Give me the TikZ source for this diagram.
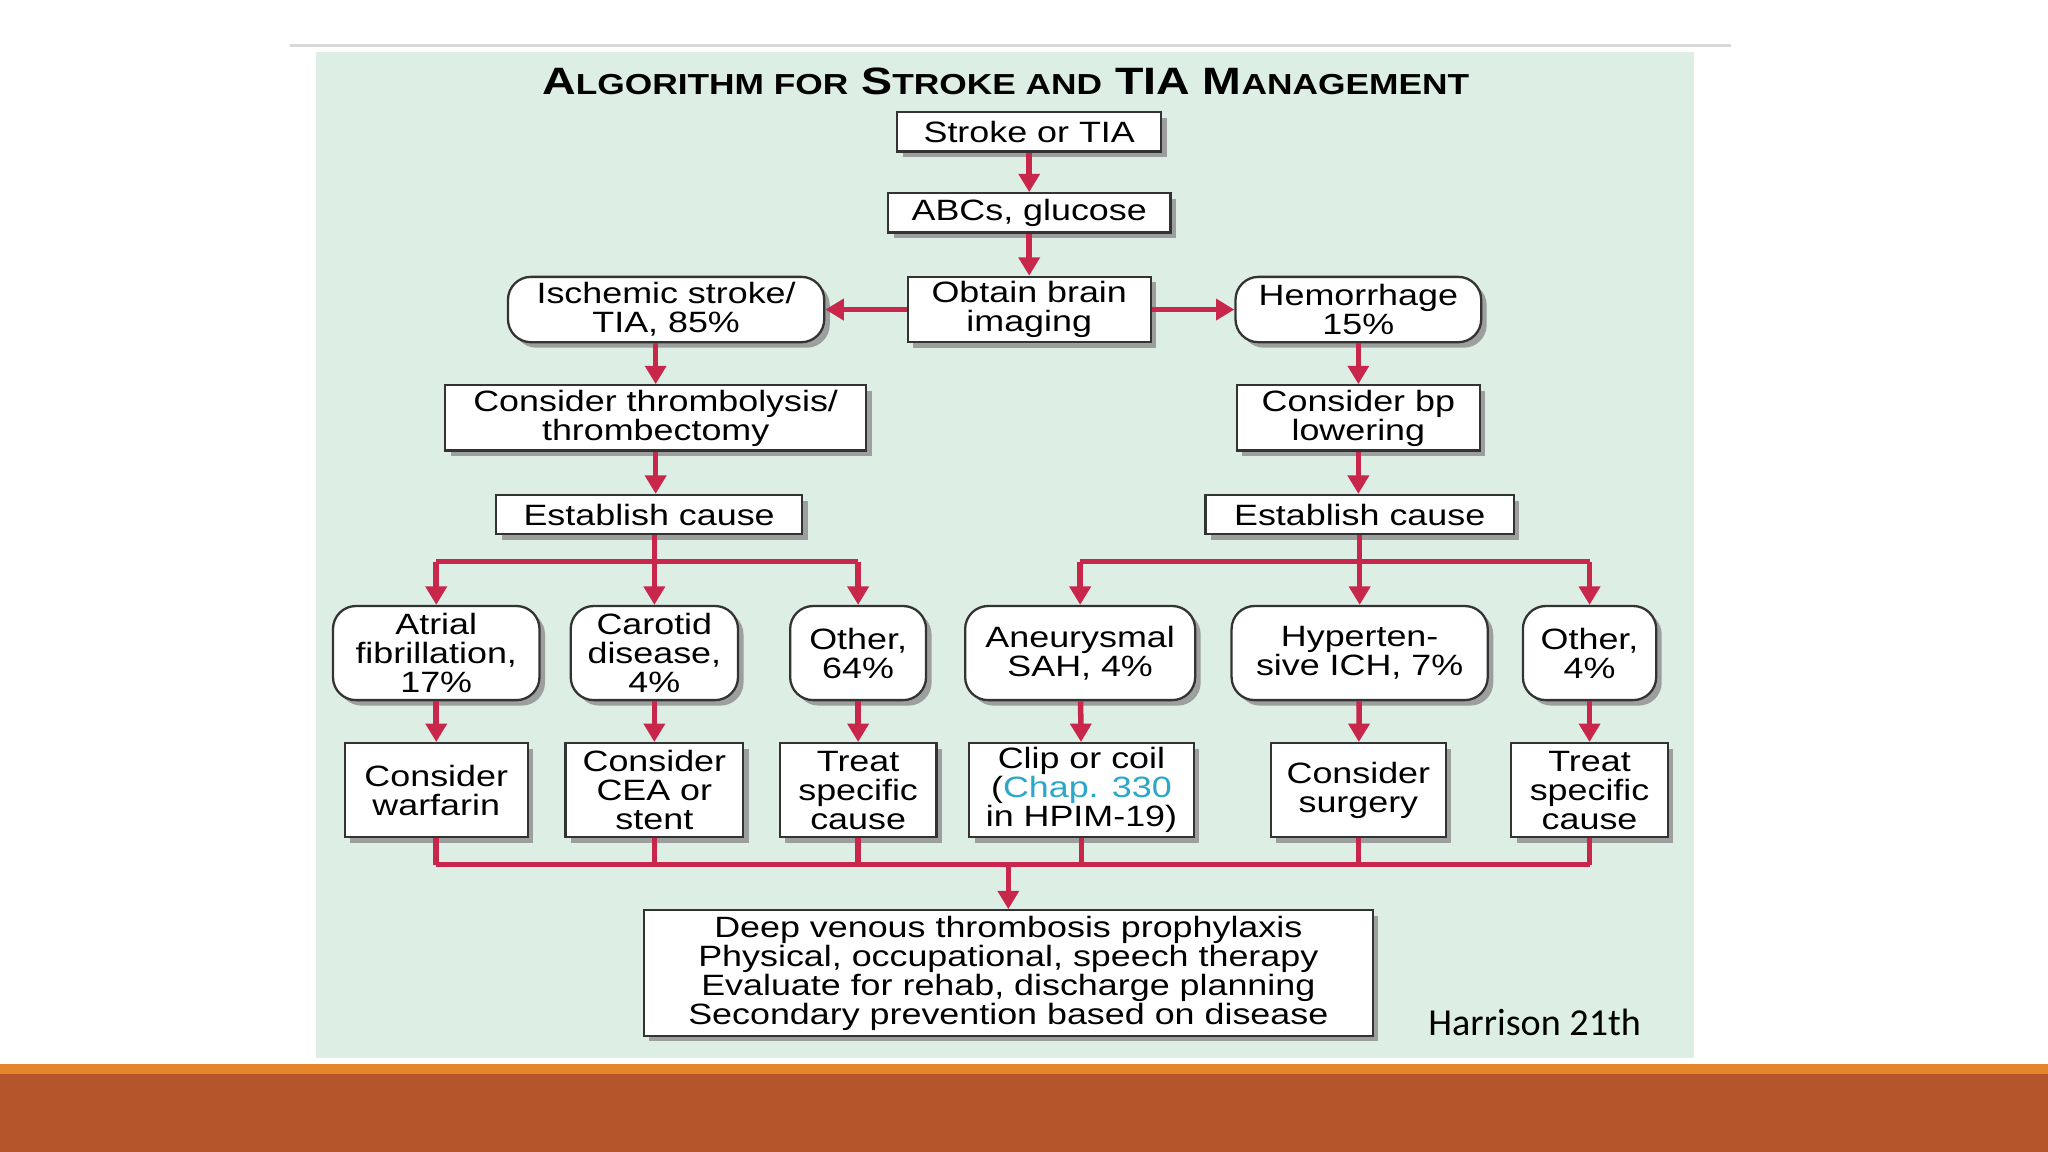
\documentclass[tikz,border=0pt]{standalone}
\usepackage{fontspec}
\setmainfont{Liberation Sans}[FakeStretch=1.22]
\newfontfamily\harr{Carlito}
\usetikzlibrary{shadows,arrows.meta}
\definecolor{panel}{HTML}{DDEEE5}
\definecolor{arr}{HTML}{C8264A}
\definecolor{orng}{HTML}{E5862A}
\definecolor{brwn}{HTML}{B5552B}
\definecolor{chap}{HTML}{2AA7C9}
\tikzset{
 bx/.style={draw=black!80,line width=0.5pt,fill=white,align=center,inner sep=0pt,
   font=\fontsize{6.4}{6.3}\selectfont,
   drop shadow={shadow xshift=1.2pt,shadow yshift=-1.2pt,fill=black!45,opacity=0.8}},
 rbx/.style={bx,rounded corners=5pt},
 sz/.style 2 args={minimum width=#1*0.28453pt,minimum height=#2*0.28453pt},
 ar/.style={draw=arr,line width=1.2pt,-{Triangle[length=4pt,width=4.5pt]}},
 ln/.style={draw=arr,line width=1.2pt},
}
\begin{document}
\begin{tikzpicture}[x=0.01cm,y=-0.01cm]
\useasboundingbox (0,0) rectangle (1568,882);
\fill[white] (0,0) rectangle (1568,882);
\fill[white] (222,22) rectangle (1325,818);
\draw[black!15,line width=0.6pt] (222,35) -- (1325,35);
\fill[panel] (242,40) rectangle (1297,810);
\fill[orng] (0,815) rectangle (1568,822);
\fill[brwn] (0,822) rectangle (1568,882);
\node (title) at (770,62) {\bfseries\fontsize{8.3}{9}\selectfont A{\fontsize{6.3}{9}\selectfont LGORITHM FOR} S{\fontsize{6.3}{9}\selectfont TROKE AND} TIA M{\fontsize{6.3}{9}\selectfont ANAGEMENT}};
\node (harr) at (1175,783) {\harr\fontsize{8.3}{10}\selectfont Harrison 21th};

\node[bx,sz={202}{30}] (stroke) at (788,101) {Stroke or TIA};
\node[bx,sz={216}{30}] (abc) at (788,163) {ABCs, glucose};
\node[bx,sz={186}{50}] (img) at (788,237) {Obtain brain\\imaging};
\node[rbx,sz={242}{50}] (isch) at (510,237) {Ischemic stroke/\\TIA, 85\%};
\node[rbx,sz={188}{50}] (hem) at (1040,237) {Hemorrhage\\15\%};
\node[bx,sz={322}{50}] (thr) at (502,320) {Consider thrombolysis/\\thrombectomy};
\node[bx,sz={186}{50}] (bp) at (1040,320) {Consider bp\\lowering};
\node[bx,sz={234}{30}] (est1) at (497,394) {Establish cause};
\node[bx,sz={236}{30}] (est2) at (1041,394) {Establish cause};

\foreach \n/\x/\w/\t in {af/334/158/{Atrial\\fibrillation,\\17\%},car/501/128/{Carotid\\disease,\\4\%},oth1/657/104/{Other,\\64\%},aneu/827/176/{Aneurysmal\\SAH, 4\%},hyp/1041/196/{Hyperten-\\sive ICH, 7\%},oth2/1217/102/{Other,\\4\%}}
  \node[rbx,sz={\w}{72}] (\n) at (\x,500) {\t};
\foreach \n/\x/\w/\t in {warf/334/140/{Consider\\warfarin},cea/501/136/{Consider\\CEA or\\stent},tr1/657/120/{Treat\\specific\\cause},clip/828/172/{Clip or coil\\(\textcolor{chap}{Chap. 330}\\in HPIM-19)},surg/1040/134/{Consider\\surgery},tr2/1217/120/{Treat\\specific\\cause}}
  \node[bx,sz={\w}{72}] (\n) at (\x,605) {\t};
\node[bx,sz={558}{96}] (fin) at (772,745) {Deep venous thrombosis prophylaxis\\Physical, occupational, speech therapy\\Evaluate for rehab, discharge planning\\Secondary prevention based on disease};

\draw[ar] (stroke) -- (abc);
\draw[ar] (abc) -- (img);
\draw[ar] (img) -- (isch);
\draw[ar] (img) -- (hem);
\draw[ar] (isch.south -| thr) -- (thr);
\draw[ar] (hem) -- (bp);
\draw[ar] (thr) -- (thr.south |- est1.north);
\draw[ar] (bp) -- (bp.south |- est2.north);
\coordinate (j1) at (est1.south -| car);
\coordinate (j2) at (est2.south -| hyp);
\draw[ln] (j1) -- (car.north |- 0,430);
\draw[ln] (af.north |- 0,430) -- (oth1.north |- 0,430);
\draw[ln] (j2) -- (hyp.north |- 0,430);
\draw[ln] (aneu.north |- 0,430) -- (oth2.north |- 0,430);
\foreach \n in {af,car,oth1,aneu,hyp,oth2} \draw[ar] (\n.north |- 0,430) -- (\n);
\draw[ar] (af) -- (warf);
\draw[ar] (car) -- (cea);
\draw[ar] (oth1) -- (tr1);
\draw[ar] (aneu) -- (clip);
\draw[ar] (hyp) -- (surg);
\draw[ar] (oth2) -- (tr2);
\foreach \n in {warf,cea,tr1,clip,surg,tr2} \draw[ln] (\n) -- (\n.south |- 0,662);
\draw[ln] (warf.south |- 0,662) -- (tr2.south |- 0,662);
\draw[ar] (fin.north |- 0,662) -- (fin);
\end{tikzpicture}
\end{document}
